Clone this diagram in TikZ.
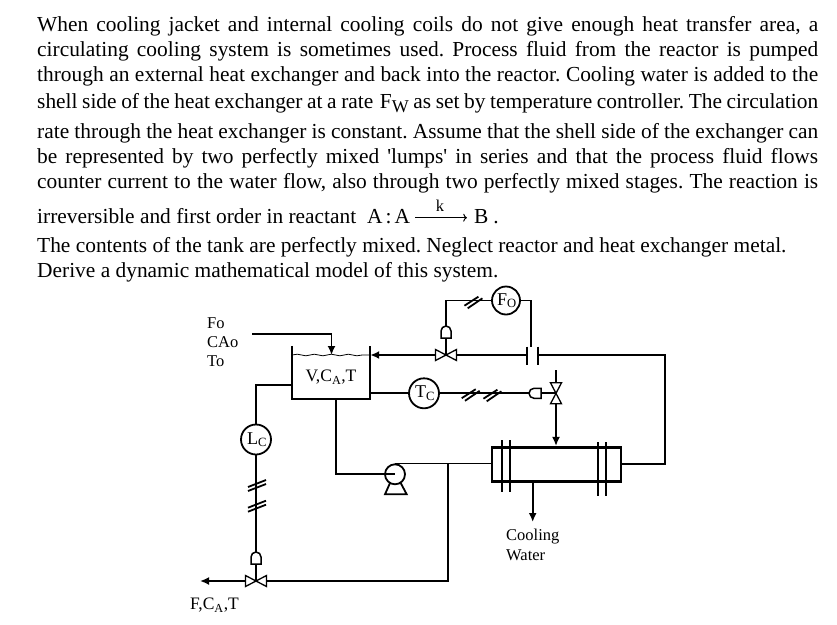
\documentclass[tikz,border=0pt]{standalone}
\usepackage{fontspec}
\setmainfont{Liberation Serif}
\usetikzlibrary{decorations.pathmorphing, arrows.meta}
\frenchspacing

\tikzset{
	textline/.style = {anchor=base west, inner sep=0pt, font=\fontsize{21.4}{24}\selectfont},
	label/.style = {inner sep=0pt, font=\fontsize{16.5}{18}\selectfont},
	biglabel/.style = {inner sep=0pt, font=\fontsize{17.5}{18}\selectfont},
	pipe/.style = {line width=1.8pt},
	flow/.style = {pipe, -{Latex[length=9pt, width=8pt]}},
	instrument/.style = {draw, circle, line width=1.8pt, inner sep=0pt, minimum size=30pt, font=\fontsize{18}{18}\selectfont},
	valve/.pic = {
		\draw[line width=1.3pt, fill=white] (0,0) -- (-10.5,-5.5) -- (-10.5,5.5) -- cycle;
		\draw[line width=1.3pt, fill=white] (0,0) -- (10.5,-5.5) -- (10.5,5.5) -- cycle;
		\coordinate (-c) at (0,0);
		\coordinate (-l) at (-10.5,0);
		\coordinate (-r) at (10.5,0);
	},
	actuator/.pic = {
		\draw[line width=1.5pt, fill=white] (-5,0) -- (5,0) -- (5,-7) arc (0:-180:5) -- cycle;
		\coordinate (-b) at (0,0);
		\coordinate (-t) at (0,-12);
	},
	hatch/.pic = {
		\draw[pipe] (-8.3,4.7) -- (5.7,-4.3);
		\draw[pipe] (-5,7.3) -- (9.7,-2.7);
	},
	hatchv/.pic = {
		\draw[pipe] (-9,2) -- (9,-5);
		\draw[pipe] (-9,6) -- (9,-1);
	}
}

\begin{document}
\begin{tikzpicture}[x=1pt, y=-1pt]
	%\draw[help lines] (0,0) grid (837,624);
	\useasboundingbox (0,0) rectangle (837,624);

	% problem text
	\node[textline] (line1) at (37,31) {\makebox[781pt][s]{When cooling jacket and internal cooling coils do not give enough heat transfer area, a}};
	\node[textline] (line2) at (37,56) {\makebox[781pt][s]{circulating cooling system is sometimes used. Process fluid from the reactor is pumped}};
	\node[textline] (line3) at (37,81) {\makebox[781pt][s]{through an external heat exchanger and back into the reactor. Cooling water is added to the}};
	\node[textline] (line4) at (37,108) {\makebox[781pt][s]{shell side of the heat exchanger at a rate\hspace{2pt} F\raisebox{-4pt}{\fontsize{18}{20}\selectfont W} as set by temperature controller. The circulation}};
	\node[textline] (line5) at (37,138) {\makebox[781pt][s]{rate through the heat exchanger is constant. Assume that the shell side of the exchanger can}};
	\node[textline] (line6) at (37,163) {\makebox[781pt][s]{be represented by two perfectly mixed \textquotesingle lumps\textquotesingle{} in series and that the process fluid flows}};
	\node[textline] (line7) at (37,188) {\makebox[781pt][s]{counter current to the water flow, also through two perfectly mixed stages. The reaction is}};
	\node[textline] (line8) at (37,223) {irreversible and first order in reactant};
	\node[textline] (reactA) at (367,223) {A\hspace{3pt}:\hspace{3pt}A};
	\node[textline] (reactB) at (474,223) {B\hspace{5pt}.};
	\coordinate (arrowL) at (415,217.7);
	\coordinate (arrowR) at (467,217.7);
	\draw[->, line width=1pt] (arrowL) -- (arrowR);
	\node[label] (rate) at (440,206) {k};
	\node[textline] (line9) at (37,252) {The contents of the tank are perfectly mixed. Neglect reactor and heat exchanger metal.};
	\node[textline] (line10) at (37,277) {Derive a dynamic mathematical model of this system.};

	% feed labels
	\node[label, anchor=west] (feedF) at (207,323) {Fo};
	\node[label, anchor=west] (feedC) at (207,342) {CAo};
	\node[label, anchor=west] (feedT) at (207,361) {To};

	% tank
	\node[minimum width=78pt, minimum height=53pt, inner sep=0pt] (tank) at (331,372.5) {};
	\node[biglabel] (tanklabel) at (331,377) {V,C\textsubscript{A},T};
	\draw[pipe] (tank.north west) -- (tank.south west) -- (tank.south east) -- (tank.north east);
	\coordinate (levelL) at (292,355);
	\coordinate (levelR) at (370,355);
	\draw[decorate, decoration={snake, segment length=17pt, amplitude=0.8pt}, line width=0.8pt] (levelL) -- (levelR);
	\coordinate (feedS) at (252,334);
	\coordinate (feedE) at (331.5,334);
	\coordinate (feedI) at (331.5,355);
	\draw[flow] (feedS) -- (feedE) -- (feedI);

	% instruments
	\node[instrument, minimum size=28pt] (FO) at (506,300.5) {\hspace*{2pt}F\textsubscript{O}};
	\node[instrument] (TC) at (424,393.3) {\hspace*{2pt}T\textsubscript{C}};
	\node[instrument] (LC) at (256,439.5) {\hspace*{2pt}L\textsubscript{C}};

	% valves
	\pic (vF) at (446,355) {valve};
	\pic (aF) at (446,338) {actuator};
	\pic[rotate=90] (vC) at (556,393.3) {valve};
	\pic[rotate=90] (aC) at (541,393.3) {actuator};
	\pic (vL) at (256,581) {valve};
	\pic (aL) at (256,564) {actuator};

	% orifice
	\coordinate (orL1) at (527.3,346.5);
	\coordinate (orL2) at (527.3,365);
	\coordinate (orR1) at (538,346.5);
	\coordinate (orR2) at (538,365);
	\draw[pipe] (orL1) -- (orL2);
	\draw[pipe] (orR1) -- (orR2);

	% exchanger
	\node[draw, line width=2.6pt, minimum width=129pt, minimum height=34.5pt, inner sep=0pt] (hx) at (556.5,464.5) {};
	\draw[pipe] (501.7,440) -- (501.7,492);
	\draw[pipe] (510,440) -- (510,492);
	\draw[pipe] (597.7,442) -- (597.7,495.5);
	\draw[pipe] (605.7,442) -- (605.7,495.5);

	% pump
	\node[draw, circle, line width=1.8pt, minimum size=20pt, inner sep=0pt] (pump) at (395,474.3) {};
	\draw[pipe] (390,483) -- (385,494.3) -- (406.7,494.3) -- (400.7,483);

	% process lines
	\coordinate (recycle1) at (665,355);
	\coordinate (recycle2) at (665,464.3);
	\draw[flow] (vF-l) -- (tank.east |- vF-l);
	\draw[pipe] (vF-r) -- (orL1 |- vF-r);
	\draw[pipe] (orR1 |- recycle1) -- (recycle1) -- (recycle2) -- (hx.east |- recycle2);
	\coordinate (tankout) at (335.7,474.3);
	\draw[pipe] (tank.south -| tankout) -- (tankout) -- (pump.center);
	\draw[pipe] (pump.north) -- (hx.west |- pump.north);
	\coordinate (drain1) at (448.3,464.3);
	\coordinate (drain2) at (448.3,581);
	\draw[pipe] (drain1) -- (drain2) -- (vL-r);
	\coordinate (prod) at (200,581);
	\draw[flow] (vL-l) -- (prod);
	\node[biglabel] (prodlabel) at (214.5,605.5) {F,C\textsubscript{A},T};

	% cooling water
	\coordinate (cwIn) at (556,370);
	\draw[pipe] (cwIn) -- (vC-r);
	\draw[flow] (vC-l) -- (hx.north -| vC-l);
	\coordinate (cwOut) at (532.7,522);
	\draw[flow] (hx.south -| cwOut) -- (cwOut);
	\node[label, anchor=west] (cw1) at (506,537) {Cooling};
	\node[label, anchor=west] (cw2) at (506,555) {Water};

	% signal lines
	\coordinate (fc1) at (446,300.5);
	\coordinate (fc2) at (531,300.5);
	\draw[pipe] (vF-c) -- (aF-b);
	\draw[pipe] (aF-t) -- (fc1) -- (FO);
	\draw[pipe] (FO) -- (fc2) -- (fc2 |- orL1);
	\pic at (472.7,301) {hatch};
	\draw[pipe] (tank.east |- TC) -- (TC);
	\draw[pipe] (TC) -- (aC-t);
	\draw[pipe] (aC-b) -- (vC-c);
	\pic at (470,393.5) {hatch};
	\pic at (491.7,394) {hatch};
	\coordinate (lc1) at (256,385);
	\draw[pipe] (tank.west |- lc1) -- (lc1) -- (LC);
	\draw[pipe] (LC) -- (aL-t);
	\draw[pipe] (aL-b) -- (vL-c);
	\pic at (257,485) {hatchv};
	\pic at (257,505.7) {hatchv};
\end{tikzpicture}
\end{document}
